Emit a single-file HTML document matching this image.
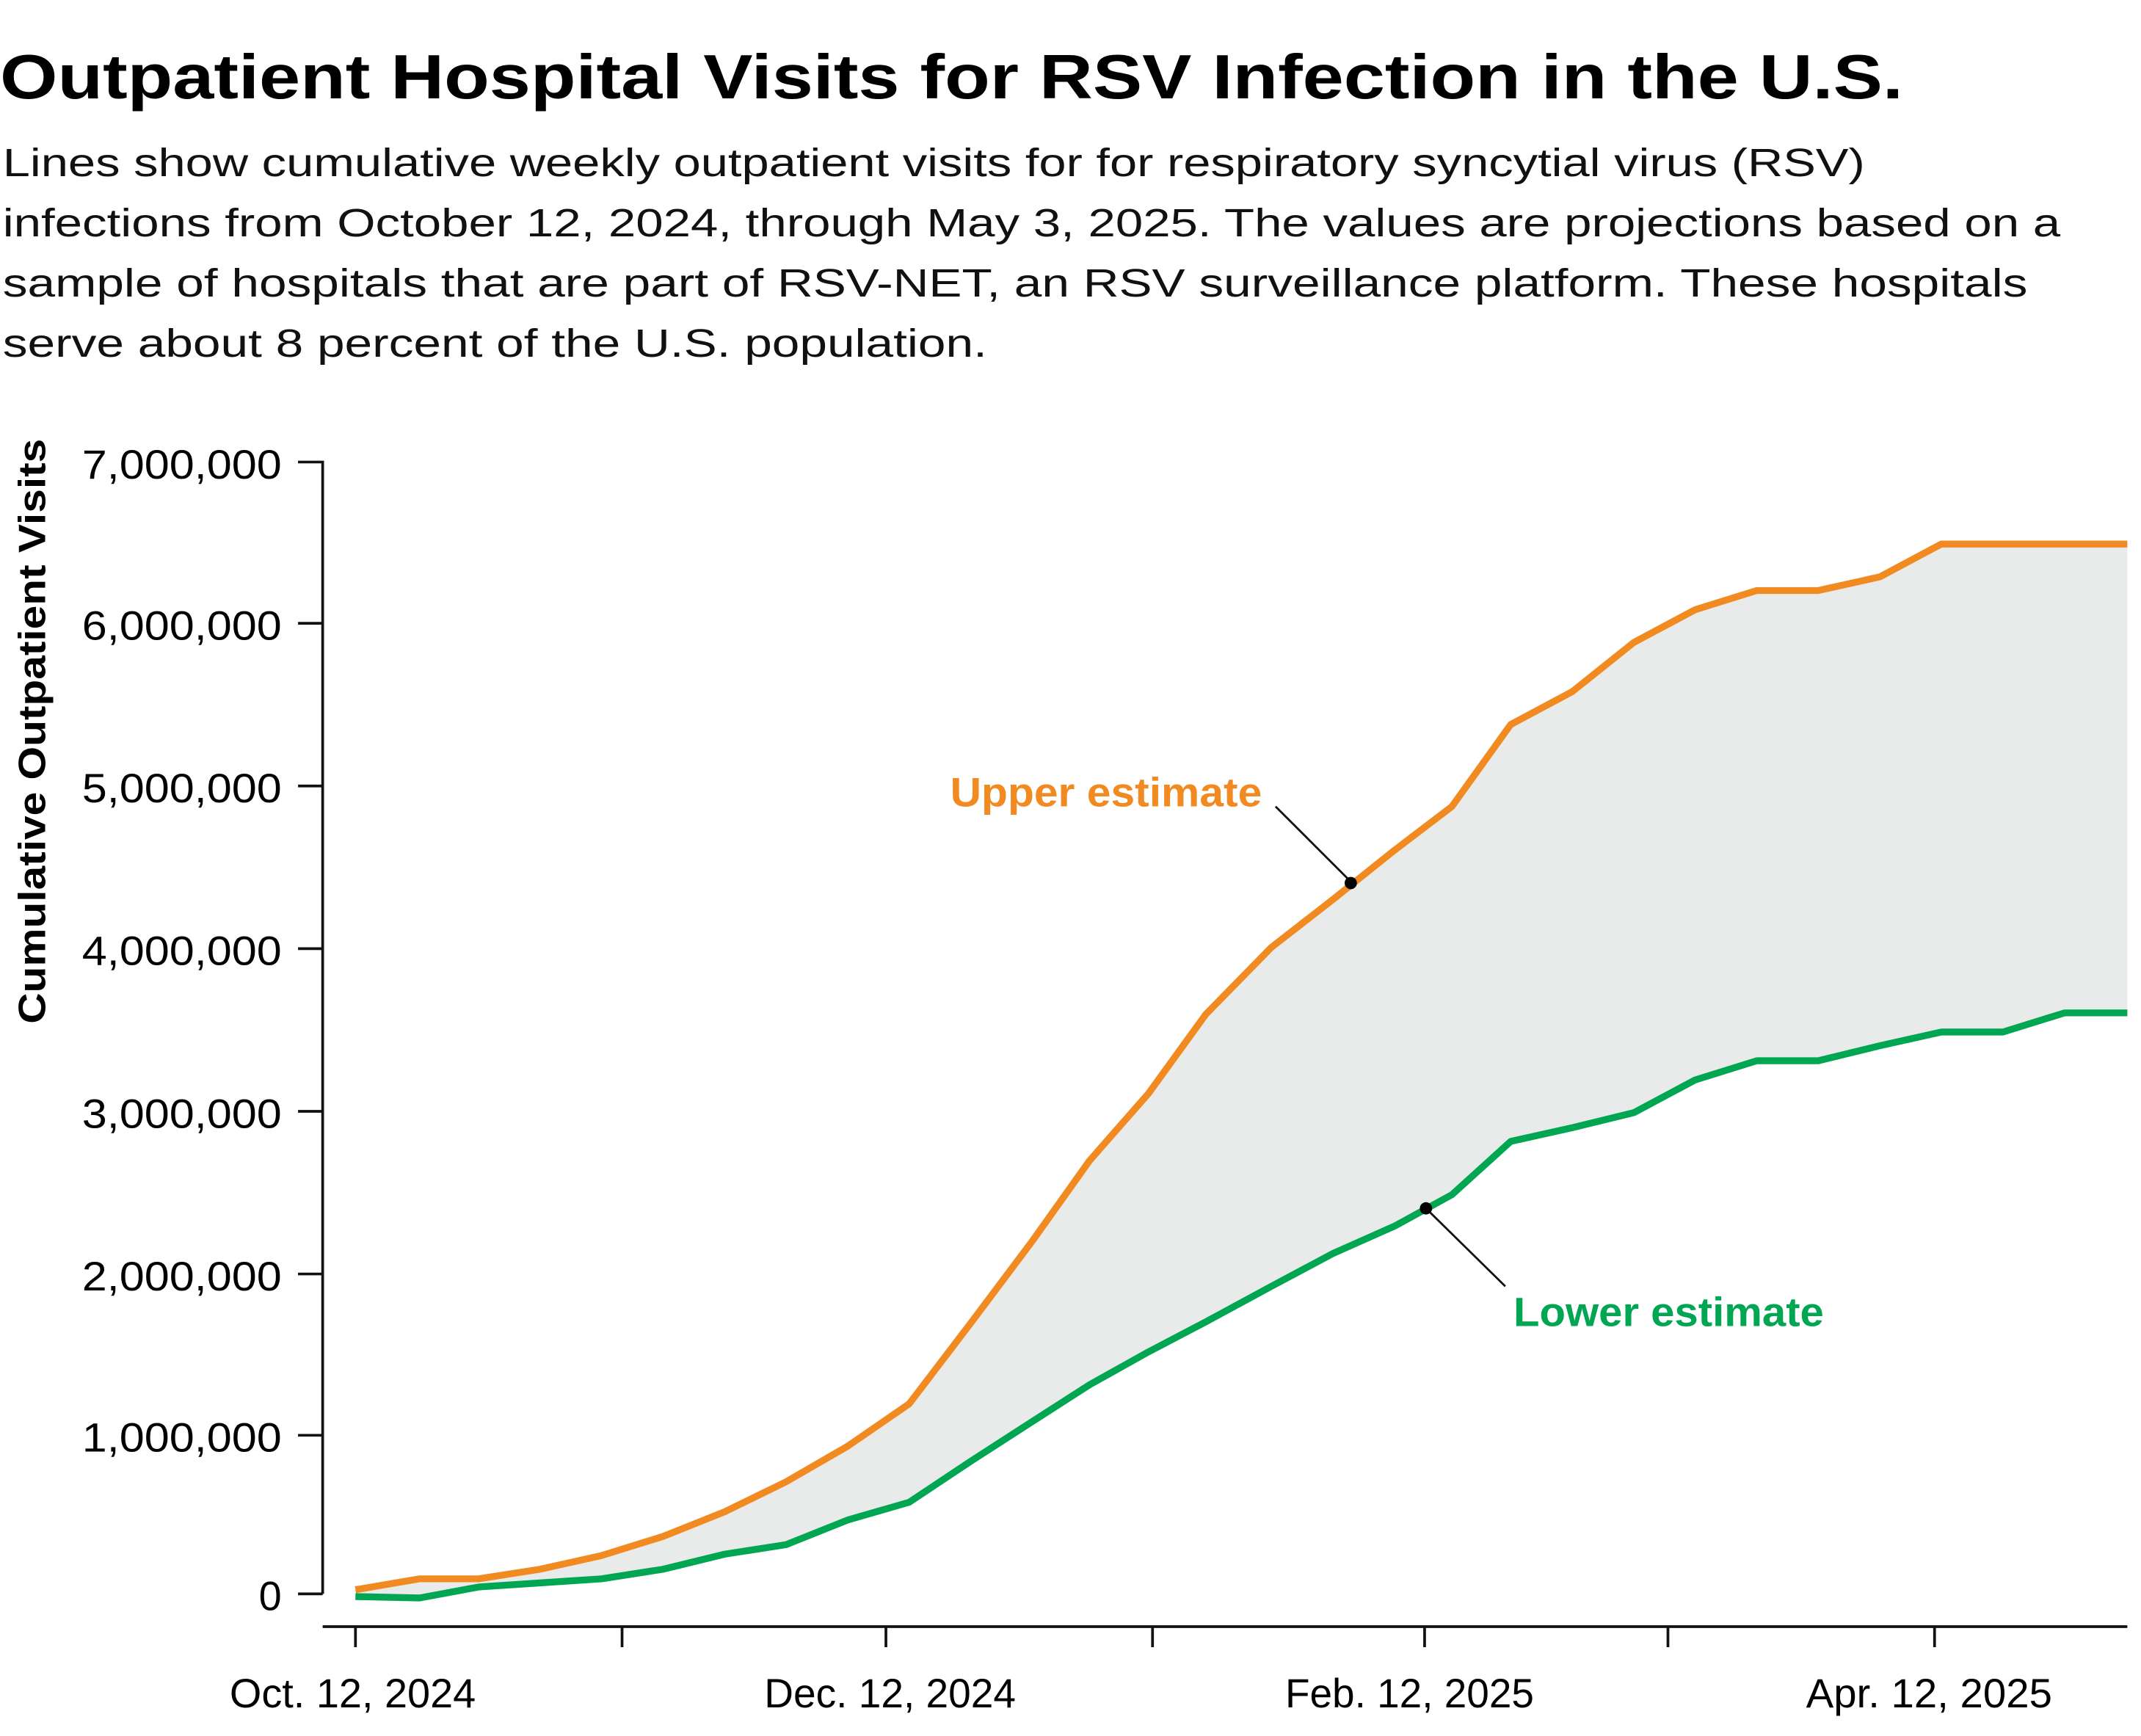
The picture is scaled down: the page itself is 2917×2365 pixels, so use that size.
<!DOCTYPE html>
<html><head><meta charset="utf-8"><style>html,body{margin:0;padding:0;background:#fff}svg{display:block}</style></head>
<body>
<svg width="2917" height="2365" viewBox="0 0 1566 1270" preserveAspectRatio="none" xmlns="http://www.w3.org/2000/svg" font-family="Liberation Sans, sans-serif">
<text x="0" y="72" font-size="46" font-weight="bold" textLength="1392" lengthAdjust="spacingAndGlyphs">Outpatient Hospital Visits for RSV Infection in the U.S.</text>
<g font-size="29" fill="#111">
<text x="2" y="129" textLength="1362" lengthAdjust="spacingAndGlyphs">Lines show cumulative weekly outpatient visits for for respiratory syncytial virus (RSV)</text>
<text x="2" y="173" textLength="1505" lengthAdjust="spacingAndGlyphs">infections from October 12, 2024, through May 3, 2025. The values are projections based on a</text>
<text x="2" y="217" textLength="1481" lengthAdjust="spacingAndGlyphs">sample of hospitals that are part of RSV-NET, an RSV surveillance platform. These hospitals</text>
<text x="2" y="261" textLength="720" lengthAdjust="spacingAndGlyphs">serve about 8 percent of the U.S. population.</text>
</g>
<text transform="translate(33,535) rotate(-90)" text-anchor="middle" font-size="28" font-weight="bold" textLength="428" lengthAdjust="spacingAndGlyphs">Cumulative Outpatient Visits</text>
<polygon fill="#e9ebea" points="260,1163 307,1155 350,1155 395,1148 440,1138 485,1124 530,1106 575,1084 620,1058 665,1027 710,968 755,908 797,849 840,800 882,742 930,693 975,658 1020,622 1062,590 1105,530 1150,506 1195,470 1240,446 1285,432 1330,432 1375,422 1420,398 1465,398 1510,398 1556,398 1556,741 1510,741 1465,755 1420,755 1375,765 1330,776 1285,776 1240,790 1195,814 1150,825 1105,835 1062,874 1020,897 975,917 930,941 882,967 840,989 797,1013 755,1040 710,1069 665,1099 620,1112 575,1130 530,1137 485,1148 440,1155 395,1158 350,1161 307,1169 260,1168"/>
<g stroke="#111" stroke-width="2" fill="none">
<path d="M236,337V1166M218,338H236M218,456H236M218,575H236M218,694H236M218,813H236M218,932H236M218,1050H236M218,1166H236"/>
<path d="M236,1190H1556M260,1190V1205M455,1190V1205M648,1190V1205M843,1190V1205M1042,1190V1205M1220,1190V1205M1415,1190V1205"/>
</g>
<g font-size="30" text-anchor="end">
<text x="206" y="350" textLength="146" lengthAdjust="spacingAndGlyphs">7,000,000</text>
<text x="206" y="468" textLength="146" lengthAdjust="spacingAndGlyphs">6,000,000</text>
<text x="206" y="587" textLength="146" lengthAdjust="spacingAndGlyphs">5,000,000</text>
<text x="206" y="706" textLength="146" lengthAdjust="spacingAndGlyphs">4,000,000</text>
<text x="206" y="825" textLength="146" lengthAdjust="spacingAndGlyphs">3,000,000</text>
<text x="206" y="944" textLength="146" lengthAdjust="spacingAndGlyphs">2,000,000</text>
<text x="206" y="1062" textLength="146" lengthAdjust="spacingAndGlyphs">1,000,000</text>
<text x="206" y="1178">0</text>
</g>
<g font-size="30" text-anchor="middle">
<text x="258" y="1249" textLength="180" lengthAdjust="spacingAndGlyphs">Oct. 12, 2024</text>
<text x="651" y="1249" textLength="184" lengthAdjust="spacingAndGlyphs">Dec. 12, 2024</text>
<text x="1031" y="1249" textLength="182" lengthAdjust="spacingAndGlyphs">Feb. 12, 2025</text>
<text x="1411" y="1249" textLength="180" lengthAdjust="spacingAndGlyphs">Apr. 12, 2025</text>
</g>
<polyline fill="none" stroke="#f28a22" stroke-width="5" stroke-linejoin="round" points="260,1163 307,1155 350,1155 395,1148 440,1138 485,1124 530,1106 575,1084 620,1058 665,1027 710,968 755,908 797,849 840,800 882,742 930,693 975,658 1020,622 1062,590 1105,530 1150,506 1195,470 1240,446 1285,432 1330,432 1375,422 1420,398 1465,398 1510,398 1556,398"/>
<polyline fill="none" stroke="#00a651" stroke-width="5" stroke-linejoin="round" points="260,1168 307,1169 350,1161 395,1158 440,1155 485,1148 530,1137 575,1130 620,1112 665,1099 710,1069 755,1040 797,1013 840,989 882,967 930,941 975,917 1020,897 1062,874 1105,835 1150,825 1195,814 1240,790 1285,776 1330,776 1375,765 1420,755 1465,755 1510,741 1556,741"/>
<g stroke="#111" stroke-width="1.5"><line x1="933" y1="590" x2="988" y2="645"/><line x1="1043" y1="884" x2="1101" y2="941"/></g>
<circle cx="988" cy="646" r="4.5" fill="#000"/><circle cx="1043" cy="884" r="4.5" fill="#000"/>
<text x="695" y="590" font-size="30" font-weight="bold" fill="#f28a22" textLength="228" lengthAdjust="spacingAndGlyphs">Upper estimate</text>
<text x="1107" y="970" font-size="30" font-weight="bold" fill="#00a651" textLength="227" lengthAdjust="spacingAndGlyphs">Lower estimate</text>
</svg>
</body></html>
